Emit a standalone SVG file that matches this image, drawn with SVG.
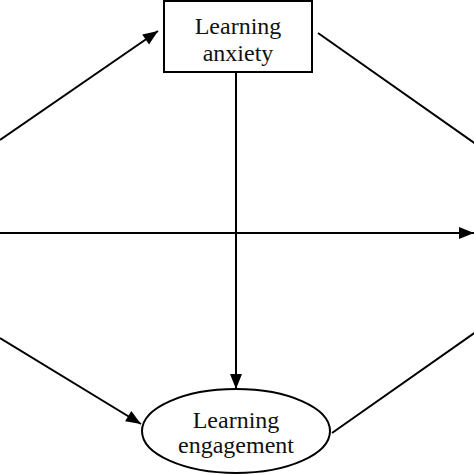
<svg xmlns="http://www.w3.org/2000/svg" width="474" height="474" viewBox="0 0 474 474">
<style>
.ln{stroke:#000;stroke-width:2;fill:none}
.nd{stroke:#000;stroke-width:2;fill:#fff}
.tx{font-family:"Liberation Serif",serif;font-size:24px;fill:#111;text-anchor:middle}
</style>
<defs>
<marker id="ah" viewBox="0 0 15 12" refX="15" refY="6" markerWidth="15" markerHeight="12" markerUnits="userSpaceOnUse" orient="auto" overflow="visible">
<path d="M0,0 L15,6 L0,12 z" fill="#000"/>
</marker>
</defs>
<rect width="474" height="474" fill="#fff"/>
<g id="connectors">
<line class="ln" x1="0" y1="140" x2="158" y2="31" marker-end="url(#ah)"/>
<line class="ln" x1="0" y1="338" x2="141" y2="424" marker-end="url(#ah)"/>
<line class="ln" x1="0" y1="233" x2="474" y2="233" marker-end="url(#ah)"/>
<line class="ln" x1="236" y1="72" x2="236" y2="389" marker-end="url(#ah)"/>
<line class="ln" x1="318" y1="33" x2="480" y2="147"/>
<line class="ln" x1="332" y1="433" x2="480" y2="329"/>
</g>
<g id="learning-anxiety">
<rect class="nd" x="164" y="1" width="148" height="71"/>
<text class="tx" x="238" y="34">Learning</text>
<text class="tx" x="238" y="61">anxiety</text>
</g>
<g id="learning-engagement">
<ellipse class="nd" cx="236" cy="431" rx="94" ry="42"/>
<text class="tx" x="236" y="428">Learning</text>
<text class="tx" x="236" y="453">engagement</text>
</g>
</svg>
